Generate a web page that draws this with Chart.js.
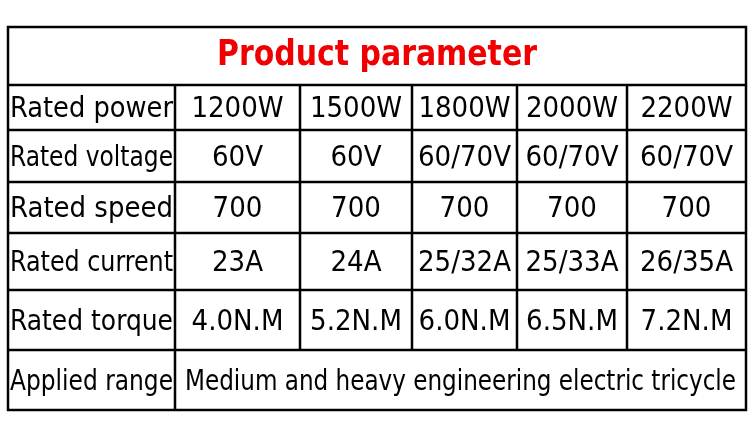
<!DOCTYPE html>
<html>
<head>
<meta charset="utf-8">
<script src="https://cdn.jsdelivr.net/npm/chart.js@4"></script>
<style>
  html, body { margin: 0; padding: 0; background: #fff; }
  #wrap { width: 750px; height: 437px; }
</style>
</head>
<body>
<div id="wrap"><canvas id="chart"></canvas></div>
<script>
const title = "Product parameter";
const rowLabels = ["Rated power", "Rated voltage", "Rated speed", "Rated current", "Rated torque", "Applied range"];
const power = ["1200W", "1500W", "1800W", "2000W", "2200W"];
const voltage = ["60V", "60V", "60/70V", "60/70V", "60/70V"];
const speed = ["700", "700", "700", "700", "700"];
const current = ["23A", "24A", "25/32A", "25/33A", "26/35A"];
const torque = ["4.0N.M", "5.2N.M", "6.0N.M", "6.5N.M", "7.2N.M"];
const appliedRange = "Medium and heavy engineering electric tricycle";

// table grid, in scale units
const colEdges = [8, 175, 300, 412, 517, 627, 746];
const rowEdges = [27, 85, 130, 182, 233, 290, 350, 410];

const tablePlugin = {
  id: "table",
  afterDraw(chart) {
    const ctx = chart.ctx;
    const xs = chart.scales.x, ys = chart.scales.y;
    const X = v => xs.getPixelForValue(v);
    const Y = v => ys.getPixelForValue(v);
    ctx.save();
    ctx.strokeStyle = "#000";
    ctx.lineWidth = 2.5;
    ctx.strokeRect(X(colEdges[0]), Y(rowEdges[0]), X(colEdges[6]) - X(colEdges[0]), Y(rowEdges[7]) - Y(rowEdges[0]));
    ctx.beginPath();
    for (let i = 1; i < rowEdges.length - 1; i++) {
      ctx.moveTo(X(colEdges[0]), Y(rowEdges[i]));
      ctx.lineTo(X(colEdges[6]), Y(rowEdges[i]));
    }
    ctx.moveTo(X(colEdges[1]), Y(rowEdges[1]));
    ctx.lineTo(X(colEdges[1]), Y(rowEdges[7]));
    for (let i = 2; i < colEdges.length - 1; i++) {
      ctx.moveTo(X(colEdges[i]), Y(rowEdges[1]));
      ctx.lineTo(X(colEdges[i]), Y(rowEdges[6]));
    }
    ctx.stroke();

    ctx.textAlign = "center";
    ctx.textBaseline = "middle";
    ctx.fillStyle = "#f00000";
    ctx.font = "600 36px 'DejaVu Sans Condensed', 'DejaVu Sans'";
    ctx.fillText(title, X((colEdges[0] + colEdges[6]) / 2), Y((rowEdges[0] + rowEdges[1]) / 2), 320);

    ctx.fillStyle = "#000";
    ctx.font = "500 29px 'DejaVu Sans Condensed', 'DejaVu Sans'";
    const rows = [power, voltage, speed, current, torque];
    rowLabels.forEach((lab, r) => {
      const cy = Y((rowEdges[r + 1] + rowEdges[r + 2]) / 2) + 2;
      ctx.fillText(lab, X((colEdges[0] + colEdges[1]) / 2), cy, X(colEdges[1]) - X(colEdges[0]) - 4);
      if (r < rows.length) {
        rows[r].forEach((v, c) => {
          ctx.fillText(v, X((colEdges[c + 1] + colEdges[c + 2]) / 2), cy, X(colEdges[c + 2]) - X(colEdges[c + 1]) - 6);
        });
      } else {
        ctx.fillText(appliedRange, X((colEdges[1] + colEdges[6]) / 2), cy, X(colEdges[6]) - X(colEdges[1]) - 20);
      }
    });
    ctx.restore();
  }
};

new Chart(document.getElementById("chart"), {
  type: "scatter",
  data: { datasets: [{ data: [] }] },
  options: {
    responsive: true,
    maintainAspectRatio: false,
    animation: false,
    layout: { padding: 0 },
    plugins: { legend: { display: false }, tooltip: { enabled: false } },
    scales: {
      x: { type: "linear", min: 0, max: 750, display: false },
      y: { type: "linear", min: 0, max: 437, reverse: true, display: false }
    }
  },
  plugins: [tablePlugin]
});
</script>
</body>
</html>
